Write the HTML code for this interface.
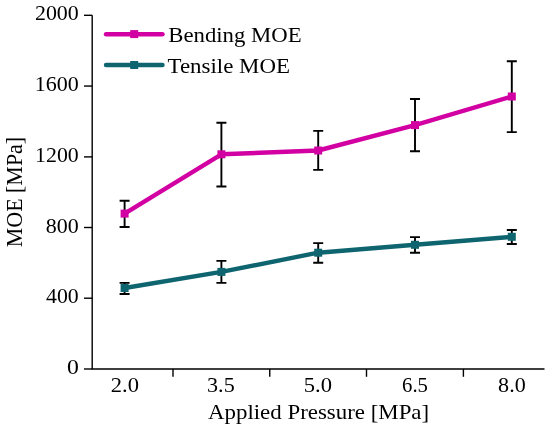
<!DOCTYPE html>
<html><head><meta charset="utf-8"><title>MOE vs Applied Pressure</title><style>
html,body{margin:0;padding:0;background:#fff;overflow:hidden;}
svg{display:block;}
text{font-family:"Liberation Serif",serif;fill:#000;}
</style></head><body>
<svg width="550" height="429" viewBox="0 0 550 429">
<path d="M92.2 15.3V369.0H544.5" stroke="#000" stroke-width="1.4" fill="none" stroke-linejoin="miter"/>
<path d="M84 15.3H92.2" stroke="#000" stroke-width="1.4"/>
<path d="M84 86.05H92.2" stroke="#000" stroke-width="1.4"/>
<path d="M84 156.9H92.2" stroke="#000" stroke-width="1.4"/>
<path d="M84 227.5H92.2" stroke="#000" stroke-width="1.4"/>
<path d="M84 298.2H92.2" stroke="#000" stroke-width="1.4"/>
<path d="M84 369.0H92.2" stroke="#000" stroke-width="1.4"/>
<path d="M173.0 369.0V376.8" stroke="#000" stroke-width="1.4"/>
<path d="M269.75 369.0V376.8" stroke="#000" stroke-width="1.4"/>
<path d="M366.5 369.0V376.8" stroke="#000" stroke-width="1.4"/>
<path d="M463.4 369.0V376.8" stroke="#000" stroke-width="1.4"/>
<text x="34.98" y="20.3" font-size="21.5" textLength="43.78" lengthAdjust="spacingAndGlyphs">2000</text>
<text x="34.75" y="91.05" font-size="21.5" textLength="44.01" lengthAdjust="spacingAndGlyphs">1600</text>
<text x="35.07" y="161.9" font-size="21.5" textLength="43.69" lengthAdjust="spacingAndGlyphs">1200</text>
<text x="45.83" y="232.5" font-size="21.5" textLength="32.93" lengthAdjust="spacingAndGlyphs">800</text>
<text x="46.09" y="303.2" font-size="21.5" textLength="32.67" lengthAdjust="spacingAndGlyphs">400</text>
<text x="66.97" y="374.0" font-size="21.5" textLength="11.85" lengthAdjust="spacingAndGlyphs">0</text>
<text x="110.85" y="392.0" font-size="21.5" textLength="28.16" lengthAdjust="spacingAndGlyphs">2.0</text>
<text x="207.07" y="392.0" font-size="21.5" textLength="27.63" lengthAdjust="spacingAndGlyphs">3.5</text>
<text x="303.79" y="392.0" font-size="21.5" textLength="28.23" lengthAdjust="spacingAndGlyphs">5.0</text>
<text x="402.04" y="392.0" font-size="21.5" textLength="25.91" lengthAdjust="spacingAndGlyphs">6.5</text>
<text x="498.13" y="392.0" font-size="21.5" textLength="27.57" lengthAdjust="spacingAndGlyphs">8.0</text>
<text x="207.98" y="418.8" font-size="21.5" textLength="221.18" lengthAdjust="spacingAndGlyphs">Applied Pressure [MPa]</text>
<text x="168.26" y="41.8" font-size="21" textLength="133.31" lengthAdjust="spacingAndGlyphs">Bending MOE</text>
<text x="167.55" y="72.8" font-size="21" textLength="122.45" lengthAdjust="spacingAndGlyphs">Tensile MOE</text>
<text transform="translate(22.0 247.22) rotate(-90)" x="0" y="0" font-size="23" textLength="110.38" lengthAdjust="spacingAndGlyphs">MOE [MPa]</text>
<path d="M124.6 200.8V227.0M119.6 200.8H129.6M119.6 227.0H129.6" stroke="#000" stroke-width="1.9" fill="none"/>
<path d="M221.4 122.7V186.5M216.4 122.7H226.4M216.4 186.5H226.4" stroke="#000" stroke-width="1.9" fill="none"/>
<path d="M318.2 130.9V169.9M313.2 130.9H323.2M313.2 169.9H323.2" stroke="#000" stroke-width="1.9" fill="none"/>
<path d="M415.0 99.0V151.3M410.0 99.0H420.0M410.0 151.3H420.0" stroke="#000" stroke-width="1.9" fill="none"/>
<path d="M511.8 61.2V132.1M506.8 61.2H516.8M506.8 132.1H516.8" stroke="#000" stroke-width="1.9" fill="none"/>
<path d="M124.6 282.9V294.0M119.6 282.9H129.6M119.6 294.0H129.6" stroke="#000" stroke-width="1.9" fill="none"/>
<path d="M221.4 260.9V282.9M216.4 260.9H226.4M216.4 282.9H226.4" stroke="#000" stroke-width="1.9" fill="none"/>
<path d="M318.2 243.1V262.8M313.2 243.1H323.2M313.2 262.8H323.2" stroke="#000" stroke-width="1.9" fill="none"/>
<path d="M415.0 237.1V252.8M410.0 237.1H420.0M410.0 252.8H420.0" stroke="#000" stroke-width="1.9" fill="none"/>
<path d="M511.8 230.0V244.0M506.8 230.0H516.8M506.8 244.0H516.8" stroke="#000" stroke-width="1.9" fill="none"/>
<polyline points="124.6,288.0 221.4,271.9 318.2,252.7 415.0,244.8 511.8,236.8" fill="none" stroke="#0E6570" stroke-width="4.4" stroke-linejoin="round"/>
<rect x="120.6" y="284.0" width="8" height="8" fill="#0E6570"/>
<rect x="217.4" y="267.9" width="8" height="8" fill="#0E6570"/>
<rect x="314.2" y="248.7" width="8" height="8" fill="#0E6570"/>
<rect x="411.0" y="240.8" width="8" height="8" fill="#0E6570"/>
<rect x="507.8" y="232.8" width="8" height="8" fill="#0E6570"/>
<polyline points="124.6,213.6 221.4,154.3 318.2,150.5 415.0,125.1 511.8,96.5" fill="none" stroke="#D200A2" stroke-width="4.4" stroke-linejoin="round"/>
<rect x="120.6" y="209.6" width="8" height="8" fill="#D200A2"/>
<rect x="217.4" y="150.3" width="8" height="8" fill="#D200A2"/>
<rect x="314.2" y="146.5" width="8" height="8" fill="#D200A2"/>
<rect x="411.0" y="121.1" width="8" height="8" fill="#D200A2"/>
<rect x="507.8" y="92.5" width="8" height="8" fill="#D200A2"/>
<path d="M106.1 34.2H162.4" stroke="#D200A2" stroke-width="4.6" stroke-linecap="round"/>
<rect x="130.2" y="30.1" width="8" height="8" fill="#D200A2"/>
<path d="M106.1 65H162.4" stroke="#0E6570" stroke-width="4.6" stroke-linecap="round"/>
<rect x="130.2" y="61" width="8" height="8" fill="#0E6570"/>
</svg>
</body></html>
